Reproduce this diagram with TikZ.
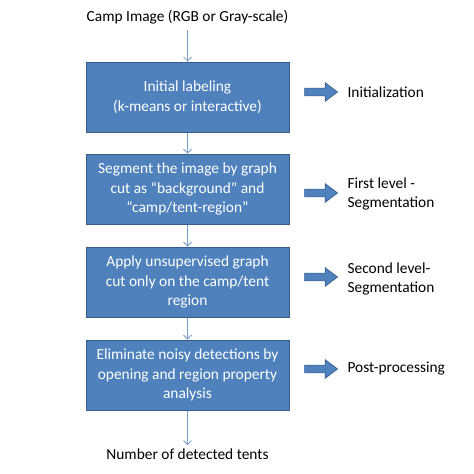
\documentclass[tikz,border=0pt]{standalone}
\usepackage{fontspec}
\setmainfont{Carlito}
\usetikzlibrary{positioning}
\usetikzlibrary{shapes.arrows}
\usetikzlibrary{arrows.meta}
\definecolor{boxblue}{HTML}{4F81BD}
\definecolor{boxline}{HTML}{385D8A}
\definecolor{thinblue}{HTML}{7A9CCB}

\begin{document}
\begin{tikzpicture}[x=1pt,y=-1pt,
    stage/.style={draw=boxline, line width=1pt, fill=boxblue, text=white,
        minimum width=203pt, minimum height=70pt, inner sep=0pt, align=center,
        font=\fontsize{15.4}{19.5}\selectfont},
    flow/.style={draw=thinblue, line width=0.8pt, -{Straight Barb[length=4pt,width=8pt]}},
    bigarrow/.style={single arrow, draw=boxline, fill=boxblue, line width=0.6pt,
        minimum height=33pt, minimum width=18pt, inner xsep=0pt, inner ysep=3.6pt,
        single arrow head extend=5.4pt, single arrow tip angle=74},
    sidetext/.style={anchor=west, align=left, font=\fontsize{15.4}{19.5}\selectfont},
    plaintext/.style={font=\fontsize{15.4}{19.5}\selectfont}]

\useasboundingbox (0,0) rectangle (474,474);

\node[plaintext] (camp) at (187.5,17) {Camp Image (RGB or Gray-scale)};

\node[stage] (init) at (187.5,97) {Initial labeling\\(k-means or interactive)};
\node[stage, below=21pt of init] (seg1) {Segment the image  by graph\\cut as “background” and\\“camp/tent-region”};
\node[stage, below=22pt of seg1] (seg2) {Apply unsupervised  graph\\cut only on the camp/tent\\region};
\node[stage, below=22pt of seg2] (post) {Eliminate noisy detections by\\opening and region property\\analysis};

\node[plaintext] (tents) at (187.5,454) {Number of detected tents};

\coordinate (campout) at ([yshift=-3pt]camp.south);
\draw[flow] (campout) -- (init);
\draw[flow] (init) -- (seg1);
\draw[flow] (seg1) -- (seg2);
\draw[flow] (seg2) -- (post);
\draw[flow] (post) -- (tents);

% side steps
\node[bigarrow] (a1) at (318.5,92) {};
\node[bigarrow] (a2) at (318.5,193) {};
\node[bigarrow] (a3) at (318.5,277) {};
\node[bigarrow] (a4) at (318.5,369) {};

\node[sidetext] (s1) at (344,92) {Initialization};
\node[sidetext] (s2) at (344,194) {First level -\\Segmentation};
\node[sidetext] (s3) at (344,279) {Second level-\\Segmentation};
\node[sidetext] (s4) at (344,369) {Post-processing};

\end{tikzpicture}
\end{document}
